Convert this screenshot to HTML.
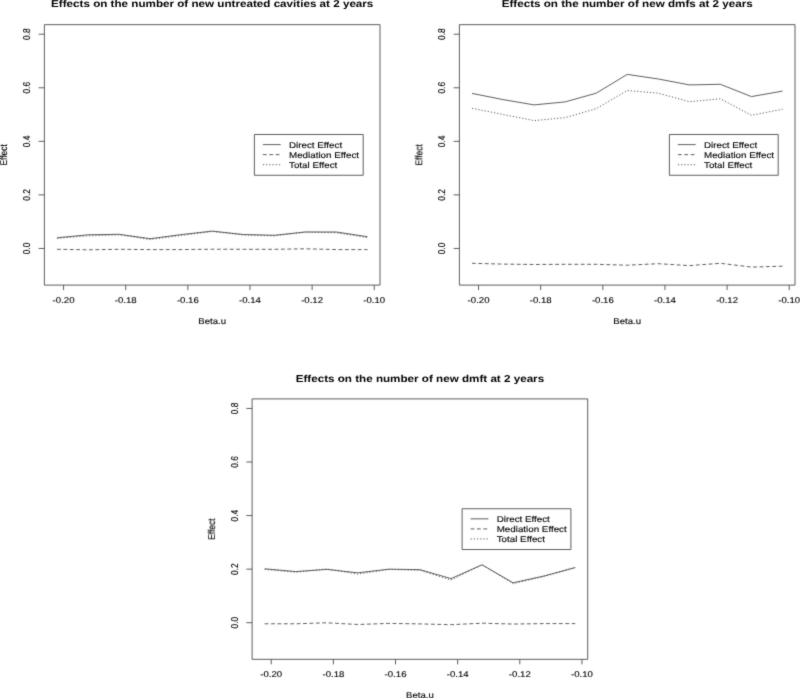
<!DOCTYPE html>
<html><head><meta charset="utf-8"><title>Effects plots</title>
<style>
html,body{margin:0;padding:0;background:#fff;overflow:hidden}
svg{display:block}
.t{font-family:"Liberation Sans",Arial,Helvetica,sans-serif;font-size:12px;fill:#000;stroke:#000;stroke-width:0.18px;text-rendering:geometricPrecision}
.ttl{font-family:"Liberation Sans",Arial,Helvetica,sans-serif;font-size:14.4px;font-weight:bold;fill:#000;text-rendering:geometricPrecision}
.ln{fill:none;stroke:#4c4c4c;stroke-width:0.9;vector-effect:non-scaling-stroke}
.ds{stroke-dasharray:3.8 2.6}
.dt{stroke-dasharray:1.25 1.95}
</style></head><body>
<svg width="800" height="698" viewBox="0 0 800 698">
<defs><filter id="soft" x="0" y="0" width="800" height="698" filterUnits="userSpaceOnUse"><feConvolveMatrix order="3" kernelMatrix="0.02 0.08 0.02 0.08 0.6 0.08 0.02 0.08 0.02" divisor="1" edgeMode="none"/></filter></defs>
<rect x="0" y="0" width="800" height="698" fill="#fff"/>
<g filter="url(#soft)">
<g transform="scale(0.8,0.698)">
<g transform="translate(0.00,0.00)">
<text class="ttl" transform="translate(265.25,10.60) scale(1.0115,1)" text-anchor="middle">Effects on the number of new untreated cavities at 2 years</text>
<rect x="55.50" y="35.32" width="419.50" height="373.14" class="ln"/>
<line x1="48.30" y1="355.95" x2="55.50" y2="355.95" class="ln"/>
<text class="t" text-anchor="middle" transform="translate(37.88,355.95) scale(1.03,1) rotate(-90)">0.0</text>
<line x1="48.30" y1="279.21" x2="55.50" y2="279.21" class="ln"/>
<text class="t" text-anchor="middle" transform="translate(37.88,279.21) scale(1.03,1) rotate(-90)">0.2</text>
<line x1="48.30" y1="202.48" x2="55.50" y2="202.48" class="ln"/>
<text class="t" text-anchor="middle" transform="translate(37.88,202.48) scale(1.03,1) rotate(-90)">0.4</text>
<line x1="48.30" y1="125.74" x2="55.50" y2="125.74" class="ln"/>
<text class="t" text-anchor="middle" transform="translate(37.88,125.74) scale(1.03,1) rotate(-90)">0.6</text>
<line x1="48.30" y1="49.01" x2="55.50" y2="49.01" class="ln"/>
<text class="t" text-anchor="middle" transform="translate(37.88,49.01) scale(1.03,1) rotate(-90)">0.8</text>
<line x1="79.44" y1="408.45" x2="79.44" y2="415.65" class="ln"/>
<text class="t" text-anchor="middle" x="79.44" y="434.31">-0.20</text>
<line x1="157.11" y1="408.45" x2="157.11" y2="415.65" class="ln"/>
<text class="t" text-anchor="middle" x="157.11" y="434.31">-0.18</text>
<line x1="234.79" y1="408.45" x2="234.79" y2="415.65" class="ln"/>
<text class="t" text-anchor="middle" x="234.79" y="434.31">-0.16</text>
<line x1="312.46" y1="408.45" x2="312.46" y2="415.65" class="ln"/>
<text class="t" text-anchor="middle" x="312.46" y="434.31">-0.14</text>
<line x1="390.14" y1="408.45" x2="390.14" y2="415.65" class="ln"/>
<text class="t" text-anchor="middle" x="390.14" y="434.31">-0.12</text>
<line x1="467.81" y1="408.45" x2="467.81" y2="415.65" class="ln"/>
<text class="t" text-anchor="middle" x="467.81" y="434.31">-0.10</text>
<text class="t" text-anchor="middle" x="265.25" y="463.75">Beta.u</text>
<text class="t" text-anchor="middle" transform="translate(9.00,221.88) scale(1.03,1) rotate(-90)">Effect</text>
<polyline points="71.25,340.69 110.06,336.39 148.87,335.67 187.69,341.98 226.50,336.10 265.31,331.09 304.12,335.96 342.94,337.11 381.75,332.38 420.56,332.38 459.38,339.11" class="ln"/>
<polyline points="71.25,357.16 110.06,357.88 148.87,357.16 187.69,357.59 226.50,357.59 265.31,357.02 304.12,357.16 342.94,357.16 381.75,356.45 420.56,357.59 459.38,357.59" class="ln ds"/>
<polyline points="71.25,341.40 110.06,337.82 148.87,336.39 187.69,343.12 226.50,337.25 265.31,331.66 304.12,336.68 342.94,337.82 381.75,332.38 420.56,333.52 459.38,340.26" class="ln dt"/>
<rect x="318.00" y="192.69" width="136.00" height="58.45" class="ln" fill="#fff"/>
<line x1="328.62" y1="207.16" x2="350.87" y2="207.16" class="ln"/>
<text class="t" transform="translate(361.25,211.75) scale(1.02,1)">Direct Effect</text>
<line x1="328.62" y1="221.56" x2="350.87" y2="221.56" class="ln ds"/>
<text class="t" transform="translate(361.25,226.15) scale(1.02,1)">Mediation Effect</text>
<line x1="328.62" y1="235.96" x2="350.87" y2="235.96" class="ln dt"/>
<text class="t" transform="translate(361.25,240.54) scale(1.02,1)">Total Effect</text>
</g>
<g transform="translate(518.75,0.00)">
<text class="ttl" transform="translate(265.25,10.74) scale(1.0115,1)" text-anchor="middle">Effects on the number of new dmfs at 2 years</text>
<rect x="55.50" y="35.32" width="419.50" height="373.14" class="ln"/>
<line x1="48.30" y1="355.95" x2="55.50" y2="355.95" class="ln"/>
<text class="t" text-anchor="middle" transform="translate(37.88,355.95) scale(1.03,1) rotate(-90)">0.0</text>
<line x1="48.30" y1="279.21" x2="55.50" y2="279.21" class="ln"/>
<text class="t" text-anchor="middle" transform="translate(37.88,279.21) scale(1.03,1) rotate(-90)">0.2</text>
<line x1="48.30" y1="202.48" x2="55.50" y2="202.48" class="ln"/>
<text class="t" text-anchor="middle" transform="translate(37.88,202.48) scale(1.03,1) rotate(-90)">0.4</text>
<line x1="48.30" y1="125.74" x2="55.50" y2="125.74" class="ln"/>
<text class="t" text-anchor="middle" transform="translate(37.88,125.74) scale(1.03,1) rotate(-90)">0.6</text>
<line x1="48.30" y1="49.01" x2="55.50" y2="49.01" class="ln"/>
<text class="t" text-anchor="middle" transform="translate(37.88,49.01) scale(1.03,1) rotate(-90)">0.8</text>
<line x1="79.44" y1="408.45" x2="79.44" y2="415.65" class="ln"/>
<text class="t" text-anchor="middle" x="79.44" y="434.31">-0.20</text>
<line x1="157.11" y1="408.45" x2="157.11" y2="415.65" class="ln"/>
<text class="t" text-anchor="middle" x="157.11" y="434.31">-0.18</text>
<line x1="234.79" y1="408.45" x2="234.79" y2="415.65" class="ln"/>
<text class="t" text-anchor="middle" x="234.79" y="434.31">-0.16</text>
<line x1="312.46" y1="408.45" x2="312.46" y2="415.65" class="ln"/>
<text class="t" text-anchor="middle" x="312.46" y="434.31">-0.14</text>
<line x1="390.14" y1="408.45" x2="390.14" y2="415.65" class="ln"/>
<text class="t" text-anchor="middle" x="390.14" y="434.31">-0.12</text>
<line x1="467.81" y1="408.45" x2="467.81" y2="415.65" class="ln"/>
<text class="t" text-anchor="middle" x="467.81" y="434.31">-0.10</text>
<text class="t" text-anchor="middle" x="265.25" y="463.75">Beta.u</text>
<text class="t" text-anchor="middle" transform="translate(9.00,221.88) scale(1.03,1) rotate(-90)">Effect</text>
<polyline points="71.25,133.81 110.06,142.69 148.87,150.29 187.69,145.99 226.50,133.52 265.31,106.59 304.12,113.18 342.94,121.63 381.75,120.77 420.56,138.40 459.38,130.52" class="ln"/>
<polyline points="71.25,377.22 110.06,378.37 148.87,378.94 187.69,378.65 226.50,378.65 265.31,379.94 304.12,377.79 342.94,380.52 381.75,377.22 420.56,382.66 459.38,381.38" class="ln ds"/>
<polyline points="71.25,155.16 110.06,164.04 148.87,172.78 187.69,168.62 226.50,155.73 265.31,129.66 304.12,133.52 342.94,145.70 381.75,141.55 420.56,165.19 459.38,156.45" class="ln dt"/>
<rect x="318.00" y="192.69" width="136.00" height="58.45" class="ln" fill="#fff"/>
<line x1="328.62" y1="207.16" x2="350.87" y2="207.16" class="ln"/>
<text class="t" transform="translate(361.25,211.75) scale(1.02,1)">Direct Effect</text>
<line x1="328.62" y1="221.56" x2="350.87" y2="221.56" class="ln ds"/>
<text class="t" transform="translate(361.25,226.15) scale(1.02,1)">Mediation Effect</text>
<line x1="328.62" y1="235.96" x2="350.87" y2="235.96" class="ln dt"/>
<text class="t" transform="translate(361.25,240.54) scale(1.02,1)">Total Effect</text>
</g>
<g transform="translate(259.62,536.17)">
<text class="ttl" transform="translate(265.25,11.25) scale(1.0115,1)" text-anchor="middle">Effects on the number of new dmft at 2 years</text>
<rect x="55.50" y="35.32" width="419.50" height="373.14" class="ln"/>
<line x1="48.30" y1="355.95" x2="55.50" y2="355.95" class="ln"/>
<text class="t" text-anchor="middle" transform="translate(37.88,355.95) scale(1.03,1) rotate(-90)">0.0</text>
<line x1="48.30" y1="279.21" x2="55.50" y2="279.21" class="ln"/>
<text class="t" text-anchor="middle" transform="translate(37.88,279.21) scale(1.03,1) rotate(-90)">0.2</text>
<line x1="48.30" y1="202.48" x2="55.50" y2="202.48" class="ln"/>
<text class="t" text-anchor="middle" transform="translate(37.88,202.48) scale(1.03,1) rotate(-90)">0.4</text>
<line x1="48.30" y1="125.74" x2="55.50" y2="125.74" class="ln"/>
<text class="t" text-anchor="middle" transform="translate(37.88,125.74) scale(1.03,1) rotate(-90)">0.6</text>
<line x1="48.30" y1="49.01" x2="55.50" y2="49.01" class="ln"/>
<text class="t" text-anchor="middle" transform="translate(37.88,49.01) scale(1.03,1) rotate(-90)">0.8</text>
<line x1="79.44" y1="408.45" x2="79.44" y2="415.65" class="ln"/>
<text class="t" text-anchor="middle" x="79.44" y="434.31">-0.20</text>
<line x1="157.11" y1="408.45" x2="157.11" y2="415.65" class="ln"/>
<text class="t" text-anchor="middle" x="157.11" y="434.31">-0.18</text>
<line x1="234.79" y1="408.45" x2="234.79" y2="415.65" class="ln"/>
<text class="t" text-anchor="middle" x="234.79" y="434.31">-0.16</text>
<line x1="312.46" y1="408.45" x2="312.46" y2="415.65" class="ln"/>
<text class="t" text-anchor="middle" x="312.46" y="434.31">-0.14</text>
<line x1="390.14" y1="408.45" x2="390.14" y2="415.65" class="ln"/>
<text class="t" text-anchor="middle" x="390.14" y="434.31">-0.12</text>
<line x1="467.81" y1="408.45" x2="467.81" y2="415.65" class="ln"/>
<text class="t" text-anchor="middle" x="467.81" y="434.31">-0.10</text>
<text class="t" text-anchor="middle" x="265.25" y="463.75">Beta.u</text>
<text class="t" text-anchor="middle" transform="translate(9.00,221.88) scale(1.03,1) rotate(-90)">Effect</text>
<polyline points="71.25,278.72 110.06,282.74 148.87,279.58 187.69,284.46 226.50,279.30 265.31,279.94 304.12,292.77 342.94,272.99 381.75,298.78 420.56,289.04 459.38,276.86" class="ln"/>
<polyline points="71.25,357.52 110.06,357.52 148.87,356.09 187.69,358.52 226.50,356.95 265.31,357.66 304.12,358.81 342.94,356.66 381.75,357.88 420.56,357.23 459.38,357.23" class="ln ds"/>
<polyline points="71.25,279.51 110.06,283.52 148.87,278.94 187.69,286.25 226.50,279.51 265.31,280.87 304.12,294.84 342.94,272.92 381.75,299.93 420.56,289.54 459.38,277.36" class="ln dt"/>
<rect x="318.00" y="192.69" width="136.00" height="58.45" class="ln" fill="#fff"/>
<line x1="328.62" y1="207.16" x2="350.87" y2="207.16" class="ln"/>
<text class="t" transform="translate(361.25,211.75) scale(1.02,1)">Direct Effect</text>
<line x1="328.62" y1="221.56" x2="350.87" y2="221.56" class="ln ds"/>
<text class="t" transform="translate(361.25,226.15) scale(1.02,1)">Mediation Effect</text>
<line x1="328.62" y1="235.96" x2="350.87" y2="235.96" class="ln dt"/>
<text class="t" transform="translate(361.25,240.54) scale(1.02,1)">Total Effect</text>
</g>
</g>
</g>
</svg>
</body></html>
